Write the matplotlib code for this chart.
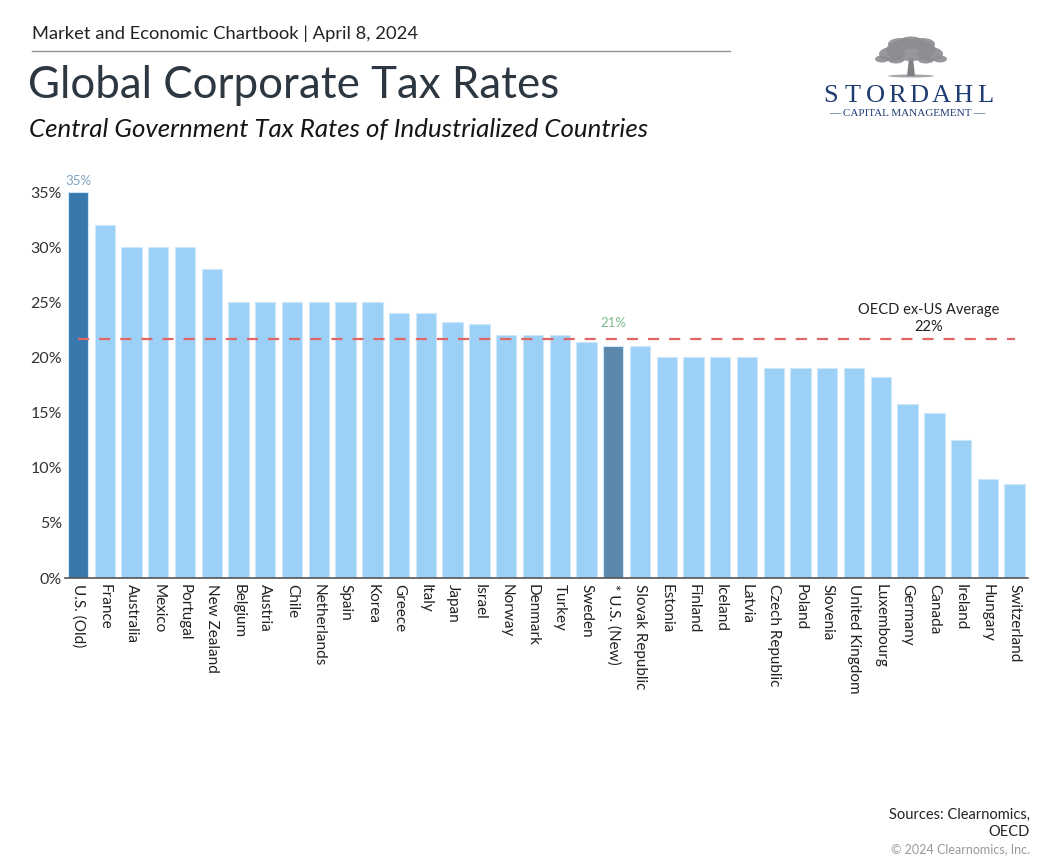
import matplotlib
matplotlib.use('Agg')
import matplotlib.pyplot as plt
import matplotlib.patches as patches
from matplotlib.ticker import FuncFormatter

plt.rcParams['font.family'] = ['Lato', 'DejaVu Sans']

# data
countries = ['U.S. (Old)', 'France', 'Australia', 'Mexico', 'Portugal', 'New Zealand',
             'Belgium', 'Austria', 'Chile', 'Netherlands', 'Spain', 'Korea', 'Greece',
             'Italy', 'Japan', 'Israel', 'Norway', 'Denmark', 'Turkey', 'Sweden',
             '* U.S. (New)', 'Slovak Republic', 'Estonia', 'Finland', 'Iceland', 'Latvia',
             'Czech Republic', 'Poland', 'Slovenia', 'United Kingdom', 'Luxembourg',
             'Germany', 'Canada', 'Ireland', 'Hungary', 'Switzerland']
rates = [35, 32, 30, 30, 30, 28, 25, 25, 25, 25, 25, 25, 24, 24, 23.2, 23, 22, 22, 22,
         21.4, 21, 21, 20, 20, 20, 20, 19, 19, 19, 19, 18.2, 15.8, 15, 12.5, 9, 8.5]
oecd_avg = 21.7
yticks = [0, 5, 10, 15, 20, 25, 30, 35]

light = '#9dd0f6'
old_us = '#3879ad'
new_us = '#5b87ab'
colors = []
for c in countries:
    if c == 'U.S. (Old)':
        colors.append(old_us)
    elif c == '* U.S. (New)':
        colors.append(new_us)
    else:
        colors.append(light)

fig = plt.figure(figsize=(10.59, 8.68), dpi=100)
fig.patch.set_facecolor('white')
W, H = 1059, 868

def fx(px):
    return px / W

def fy(py):
    return 1 - py / H

# header
fig.text(fx(32), fy(34), 'Market and Economic Chartbook | April 8, 2024',
         fontsize=13.2, color='#222222', va='center', ha='left')
fig.add_artist(plt.Line2D([fx(32), fx(730)], [fy(51), fy(51)], color='#8a9299', lw=1))
fig.text(fx(28), fy(86), 'Global Corporate Tax Rates', fontsize=31.6, color='#2c3741',
         va='center', ha='left')
fig.text(fx(29), fy(130), 'Central Government Tax Rates of Industrialized Countries',
         fontsize=18.6, style='italic', color='#151515', va='center', ha='left')

# logo (simple tree + lettering)
tree = fig.add_axes([fx(866), fy(80), fx(90), 44 / H])
tree.set_xlim(0, 90)
tree.set_ylim(0, 44)
tree.axis('off')
tree.add_patch(patches.Ellipse((45, 4), 46, 3, facecolor='#a3a5a8', edgecolor='none'))
tree.add_patch(patches.Polygon([(41, 4), (49, 4), (47, 22), (43, 22)], facecolor='#7d7f82'))
blobs = [(45, 30, 50, 22), (26, 26, 26, 14), (64, 26, 26, 14), (35, 36, 26, 12),
         (56, 36, 26, 12), (45, 40, 20, 7), (16, 21, 14, 7), (74, 21, 14, 7),
         (30, 20, 16, 7), (60, 20, 16, 7)]
for (cx, cy, w, h) in blobs:
    tree.add_patch(patches.Ellipse((cx, cy), w, h, facecolor='#8b8d90', edgecolor='none',
                                   alpha=0.9))
letters = 'STORDAHL'
for i, ch in enumerate(letters):
    fig.text(fx(831 + i * 22.0), fy(96), ch, fontsize=19, color='#1f3c73',
             family='Liberation Serif', ha='center', va='center')
fig.text(fx(907), fy(113), '— CAPITAL MANAGEMENT —', fontsize=8, color='#1f3c73',
         family='Liberation Serif', ha='center', va='center')

# chart
ax = fig.add_axes([fx(64.6), 1 - 578 / H, fx(963.4), 397 / H])
x = list(range(len(countries)))
ax.bar(x, rates, width=0.76, color=colors, edgecolor='#cfe7fb', linewidth=0.8, zorder=2)
ax.plot([0, len(countries) - 1], [oecd_avg, oecd_avg], color='#e06666', lw=1.6,
        dashes=(5, 4.5), zorder=3)
ax.text(31.8, oecd_avg + 2.6, 'OECD ex-US Average', ha='center', va='center',
        fontsize=10.5, color='#222222')
ax.text(31.8, oecd_avg + 1.05, '22%', ha='center', va='center',
        fontsize=10.5, color='#222222')
ax.text(0, rates[0] + 0.5, '35%', ha='center', va='bottom', fontsize=9.5, color='#7ea3c4')
i_new = countries.index('* U.S. (New)')
ax.text(i_new, oecd_avg + 0.9, '21%', ha='center', va='bottom', fontsize=9.5,
        color='#7dbb8c')

ax.set_xlim(-0.5, len(countries) - 0.5)
ax.set_ylim(0, 36)
ax.set_yticks(yticks)
ax.yaxis.set_major_formatter(FuncFormatter(lambda v, p: f'{v:.0f}%'))
ax.set_xticks(x)
ax.set_xticklabels(countries, rotation=270, fontsize=11, color='#222222', va='top')
ax.tick_params(axis='y', length=0, labelsize=11.5, labelcolor='#333333', pad=2)
ax.tick_params(axis='x', length=0, pad=4)
for s in ['top', 'right', 'left']:
    ax.spines[s].set_visible(False)
ax.spines['bottom'].set_color('#555555')
ax.spines['bottom'].set_linewidth(1.2)

# sources
fig.text(fx(1030), fy(815), 'Sources: Clearnomics,', fontsize=10.5, color='#222222',
         ha='right', va='center')
fig.text(fx(1030), fy(832), 'OECD', fontsize=10.5, color='#222222', ha='right', va='center')
fig.text(fx(1030), fy(849), '© 2024 Clearnomics, Inc.', fontsize=9, color='#999999',
         ha='right', va='center')

fig.savefig('out.png', dpi=100, facecolor='white')
